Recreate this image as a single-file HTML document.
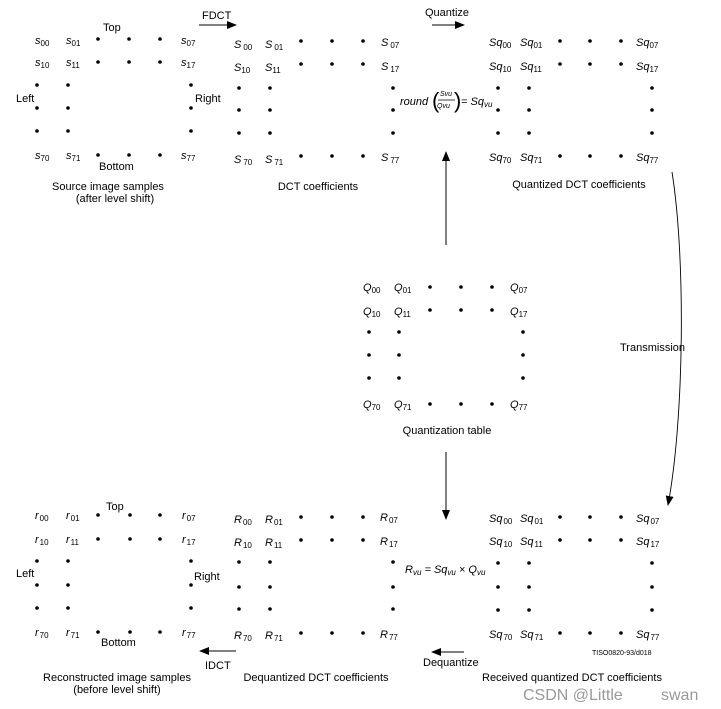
<!DOCTYPE html>
<html><head><meta charset="utf-8"><style>
html,body{margin:0;padding:0;background:#fff}
svg{display:block}
text{font-family:"Liberation Sans",sans-serif;font-size:11px;fill:#000}
.i{font-style:italic}
.s{font-size:8px;font-style:normal}
</style></head><body>
<svg width="721" height="709" viewBox="0 0 721 709" xmlns="http://www.w3.org/2000/svg">
<defs><marker id="a" markerWidth="10" markerHeight="8" refX="9" refY="4" orient="auto" markerUnits="userSpaceOnUse"><path d="M0,0 L10,4 L0,8 Z" fill="#000"/></marker></defs>
<g fill="#000">
<!-- Block 1 top -->
<circle cx="98" cy="39" r="1.8"/><circle cx="129" cy="39" r="1.8"/><circle cx="160" cy="39" r="1.8"/>
<circle cx="98" cy="62" r="1.8"/><circle cx="129" cy="62" r="1.8"/><circle cx="160" cy="62" r="1.8"/>
<circle cx="37" cy="85" r="1.8"/><circle cx="68" cy="85" r="1.8"/><circle cx="191" cy="85" r="1.8"/>
<circle cx="37" cy="108" r="1.8"/><circle cx="68" cy="108" r="1.8"/><circle cx="191" cy="108" r="1.8"/>
<circle cx="37" cy="131" r="1.8"/><circle cx="68" cy="131" r="1.8"/><circle cx="191" cy="131" r="1.8"/>
<circle cx="98" cy="155" r="1.8"/><circle cx="129" cy="155" r="1.8"/><circle cx="160" cy="155" r="1.8"/>
<!-- Block 2 top -->
<circle cx="301" cy="41" r="1.8"/><circle cx="332" cy="41" r="1.8"/><circle cx="363" cy="41" r="1.8"/>
<circle cx="301" cy="64" r="1.8"/><circle cx="332" cy="64" r="1.8"/><circle cx="363" cy="64" r="1.8"/>
<circle cx="239" cy="88" r="1.8"/><circle cx="270" cy="88" r="1.8"/><circle cx="393" cy="88" r="1.8"/>
<circle cx="239" cy="110" r="1.8"/><circle cx="270" cy="110" r="1.8"/><circle cx="393" cy="110" r="1.8"/>
<circle cx="239" cy="133" r="1.8"/><circle cx="270" cy="133" r="1.8"/><circle cx="393" cy="133" r="1.8"/>
<circle cx="301" cy="156" r="1.8"/><circle cx="332" cy="156" r="1.8"/><circle cx="363" cy="156" r="1.8"/>
<!-- Block 3 top -->
<circle cx="560" cy="41" r="1.8"/><circle cx="590" cy="41" r="1.8"/><circle cx="621" cy="41" r="1.8"/>
<circle cx="560" cy="64" r="1.8"/><circle cx="590" cy="64" r="1.8"/><circle cx="621" cy="64" r="1.8"/>
<circle cx="498" cy="88" r="1.8"/><circle cx="529" cy="88" r="1.8"/><circle cx="652" cy="88" r="1.8"/>
<circle cx="498" cy="110" r="1.8"/><circle cx="529" cy="110" r="1.8"/><circle cx="652" cy="110" r="1.8"/>
<circle cx="498" cy="133" r="1.8"/><circle cx="529" cy="133" r="1.8"/><circle cx="652" cy="133" r="1.8"/>
<circle cx="560" cy="156" r="1.8"/><circle cx="590" cy="156" r="1.8"/><circle cx="621" cy="156" r="1.8"/>
<!-- Q block -->
<circle cx="430" cy="287" r="1.8"/><circle cx="461" cy="287" r="1.8"/><circle cx="492" cy="287" r="1.8"/>
<circle cx="430" cy="310" r="1.8"/><circle cx="461" cy="310" r="1.8"/><circle cx="492" cy="310" r="1.8"/>
<circle cx="369" cy="332" r="1.8"/><circle cx="399" cy="332" r="1.8"/><circle cx="523" cy="332" r="1.8"/>
<circle cx="369" cy="355" r="1.8"/><circle cx="399" cy="355" r="1.8"/><circle cx="523" cy="355" r="1.8"/>
<circle cx="369" cy="378" r="1.8"/><circle cx="399" cy="378" r="1.8"/><circle cx="523" cy="378" r="1.8"/>
<circle cx="430" cy="404" r="1.8"/><circle cx="461" cy="404" r="1.8"/><circle cx="492" cy="404" r="1.8"/>
<!-- Block 1 bottom -->
<circle cx="98" cy="515" r="1.8"/><circle cx="130" cy="515" r="1.8"/><circle cx="160" cy="515" r="1.8"/>
<circle cx="98" cy="539" r="1.8"/><circle cx="130" cy="539" r="1.8"/><circle cx="160" cy="539" r="1.8"/>
<circle cx="37" cy="561" r="1.8"/><circle cx="68" cy="561" r="1.8"/><circle cx="191" cy="561" r="1.8"/>
<circle cx="37" cy="585" r="1.8"/><circle cx="68" cy="585" r="1.8"/><circle cx="191" cy="585" r="1.8"/>
<circle cx="37" cy="608" r="1.8"/><circle cx="68" cy="608" r="1.8"/><circle cx="191" cy="608" r="1.8"/>
<circle cx="98" cy="632" r="1.8"/><circle cx="130" cy="632" r="1.8"/><circle cx="160" cy="632" r="1.8"/>
<!-- Block 2 bottom -->
<circle cx="301" cy="517" r="1.8"/><circle cx="332" cy="517" r="1.8"/><circle cx="363" cy="517" r="1.8"/>
<circle cx="301" cy="540" r="1.8"/><circle cx="332" cy="540" r="1.8"/><circle cx="363" cy="540" r="1.8"/>
<circle cx="239" cy="562" r="1.8"/><circle cx="270" cy="562" r="1.8"/><circle cx="393" cy="562" r="1.8"/>
<circle cx="239" cy="587" r="1.8"/><circle cx="270" cy="587" r="1.8"/><circle cx="393" cy="587" r="1.8"/>
<circle cx="239" cy="609" r="1.8"/><circle cx="270" cy="609" r="1.8"/><circle cx="393" cy="609" r="1.8"/>
<circle cx="301" cy="633" r="1.8"/><circle cx="332" cy="633" r="1.8"/><circle cx="363" cy="633" r="1.8"/>
<!-- Block 3 bottom -->
<circle cx="560" cy="517" r="1.8"/><circle cx="590" cy="517" r="1.8"/><circle cx="621" cy="517" r="1.8"/>
<circle cx="560" cy="540" r="1.8"/><circle cx="590" cy="540" r="1.8"/><circle cx="621" cy="540" r="1.8"/>
<circle cx="498" cy="563" r="1.8"/><circle cx="529" cy="563" r="1.8"/><circle cx="652" cy="563" r="1.8"/>
<circle cx="498" cy="587" r="1.8"/><circle cx="529" cy="587" r="1.8"/><circle cx="652" cy="587" r="1.8"/>
<circle cx="498" cy="610" r="1.8"/><circle cx="529" cy="610" r="1.8"/><circle cx="652" cy="610" r="1.8"/>
<circle cx="560" cy="633" r="1.8"/><circle cx="590" cy="633" r="1.8"/><circle cx="621" cy="633" r="1.8"/>
</g>

<!-- Block 1 top labels -->
<text class="i" x="35" y="44">s<tspan class="s" dy="2">00</tspan></text>
<text class="i" x="66" y="44">s<tspan class="s" dy="2">01</tspan></text>
<text class="i" x="181" y="44">s<tspan class="s" dy="2">07</tspan></text>
<text class="i" x="35" y="66">s<tspan class="s" dy="2">10</tspan></text>
<text class="i" x="66" y="66">s<tspan class="s" dy="2">11</tspan></text>
<text class="i" x="181" y="66">s<tspan class="s" dy="2">17</tspan></text>
<text class="i" x="35" y="159">s<tspan class="s" dy="2">70</tspan></text>
<text class="i" x="66" y="159">s<tspan class="s" dy="2">71</tspan></text>
<text class="i" x="181" y="159">s<tspan class="s" dy="2">77</tspan></text>
<text x="103" y="31">Top</text>
<text x="16" y="102">Left</text>
<text x="195" y="102">Right</text>
<text x="99" y="170">Bottom</text>
<text x="108" y="190" text-anchor="middle">Source image samples</text>
<text x="115" y="202" text-anchor="middle">(after level shift)</text>

<text x="202" y="19">FDCT</text>
<line x1="199" y1="25" x2="236" y2="25" stroke="#000" marker-end="url(#a)"/>

<!-- Block 2 top -->
<text class="i" x="234" y="48">S<tspan class="s" dx="2" dy="2">00</tspan></text>
<text class="i" x="265" y="48">S<tspan class="s" dx="2" dy="2">01</tspan></text>
<text class="i" x="381" y="46">S<tspan class="s" dx="2" dy="2">07</tspan></text>
<text class="i" x="234" y="71">S<tspan class="s" dy="2">10</tspan></text>
<text class="i" x="265" y="71">S<tspan class="s" dy="2">11</tspan></text>
<text class="i" x="381" y="70">S<tspan class="s" dx="2" dy="2">17</tspan></text>
<text class="i" x="234" y="163">S<tspan class="s" dx="2" dy="2">70</tspan></text>
<text class="i" x="265" y="163">S<tspan class="s" dx="2" dy="2">71</tspan></text>
<text class="i" x="381" y="161">S<tspan class="s" dx="2" dy="2">77</tspan></text>
<text x="318" y="190" text-anchor="middle">DCT coefficients</text>

<text x="425" y="16">Quantize</text>
<line x1="432" y1="25" x2="464" y2="25" stroke="#000" marker-end="url(#a)"/>

<!-- formula -->
<text class="i" x="400" y="105">round</text>
<text x="432" y="108" style="font-size:22px;font-weight:100">(</text>
<text class="i" x="440" y="96" style="font-size:7px">Svu</text>
<line x1="438" y1="100" x2="455" y2="100" stroke="#000" stroke-width="0.7"/>
<text class="i" x="437" y="108" style="font-size:7px">Qvu</text>
<text x="454" y="108" style="font-size:22px;font-weight:100">)</text>
<text class="i" x="461" y="105">= Sq<tspan class="s" style="font-style:italic" dy="2">vu</tspan></text>

<!-- Block 3 top -->
<text class="i" x="489" y="46">Sq<tspan class="s" dy="2">00</tspan></text>
<text class="i" x="520" y="46">Sq<tspan class="s" dy="2">01</tspan></text>
<text class="i" x="636" y="46">Sq<tspan class="s" dy="2">07</tspan></text>
<text class="i" x="489" y="70">Sq<tspan class="s" dy="2">10</tspan></text>
<text class="i" x="520" y="70">Sq<tspan class="s" dy="2">11</tspan></text>
<text class="i" x="636" y="70">Sq<tspan class="s" dy="2">17</tspan></text>
<text class="i" x="489" y="161">Sq<tspan class="s" dy="2">70</tspan></text>
<text class="i" x="520" y="161">Sq<tspan class="s" dy="2">71</tspan></text>
<text class="i" x="636" y="161">Sq<tspan class="s" dy="2">77</tspan></text>
<text x="579" y="188" text-anchor="middle">Quantized DCT coefficients</text>

<!-- vertical arrows -->
<line x1="446" y1="245" x2="446" y2="152" stroke="#000" marker-end="url(#a)"/>
<line x1="446" y1="452" x2="446" y2="519" stroke="#000" marker-end="url(#a)"/>

<!-- Q block labels -->
<text class="i" x="363" y="291">Q<tspan class="s" dy="2">00</tspan></text>
<text class="i" x="394" y="291">Q<tspan class="s" dy="2">01</tspan></text>
<text class="i" x="510" y="291">Q<tspan class="s" dy="2">07</tspan></text>
<text class="i" x="363" y="315">Q<tspan class="s" dy="2">10</tspan></text>
<text class="i" x="394" y="315">Q<tspan class="s" dy="2">11</tspan></text>
<text class="i" x="510" y="315">Q<tspan class="s" dy="2">17</tspan></text>
<text class="i" x="363" y="408">Q<tspan class="s" dy="2">70</tspan></text>
<text class="i" x="394" y="408">Q<tspan class="s" dy="2">71</tspan></text>
<text class="i" x="510" y="408">Q<tspan class="s" dy="2">77</tspan></text>
<text x="447" y="434" text-anchor="middle">Quantization table</text>

<!-- transmission -->
<path d="M672,172 C686,260 684,420 668,505" fill="none" stroke="#000" stroke-width="0.9" marker-end="url(#a)"/>
<text x="620" y="351">Transmission</text>

<!-- Block 1 bottom -->
<text class="i" x="35" y="519">r<tspan class="s" dx="1" dy="2">00</tspan></text>
<text class="i" x="66" y="519">r<tspan class="s" dx="1" dy="2">01</tspan></text>
<text class="i" x="182" y="519">r<tspan class="s" dx="1" dy="2">07</tspan></text>
<text class="i" x="35" y="543">r<tspan class="s" dx="1" dy="2">10</tspan></text>
<text class="i" x="66" y="543">r<tspan class="s" dx="1" dy="2">11</tspan></text>
<text class="i" x="182" y="543">r<tspan class="s" dx="1" dy="2">17</tspan></text>
<text class="i" x="35" y="636">r<tspan class="s" dx="1" dy="2">70</tspan></text>
<text class="i" x="66" y="636">r<tspan class="s" dx="1" dy="2">71</tspan></text>
<text class="i" x="182" y="636">r<tspan class="s" dx="1" dy="2">77</tspan></text>
<text x="106" y="510">Top</text>
<text x="16" y="577">Left</text>
<text x="194" y="580">Right</text>
<text x="101" y="646">Bottom</text>
<text x="117" y="681" text-anchor="middle">Reconstructed image samples</text>
<text x="117" y="693" text-anchor="middle">(before level shift)</text>
<line x1="236" y1="651" x2="200" y2="651" stroke="#000" marker-end="url(#a)"/>
<text x="205" y="669">IDCT</text>

<!-- Block 2 bottom -->
<text class="i" x="234" y="523">R<tspan class="s" dx="1" dy="2">00</tspan></text>
<text class="i" x="265" y="523">R<tspan class="s" dx="1" dy="2">01</tspan></text>
<text class="i" x="380" y="521">R<tspan class="s" dx="1" dy="2">07</tspan></text>
<text class="i" x="234" y="546">R<tspan class="s" dx="1" dy="2">10</tspan></text>
<text class="i" x="265" y="546">R<tspan class="s" dx="1" dy="2">11</tspan></text>
<text class="i" x="380" y="545">R<tspan class="s" dx="1" dy="2">17</tspan></text>
<text class="i" x="234" y="639">R<tspan class="s" dx="1" dy="2">70</tspan></text>
<text class="i" x="265" y="639">R<tspan class="s" dx="1" dy="2">71</tspan></text>
<text class="i" x="380" y="638">R<tspan class="s" dx="1" dy="2">77</tspan></text>
<text x="316" y="681" text-anchor="middle">Dequantized DCT coefficients</text>

<text class="i" x="405" y="573">R<tspan class="s" style="font-style:italic" dy="2">vu</tspan><tspan dy="-2"> = Sq</tspan><tspan class="s" style="font-style:italic" dy="2">vu</tspan><tspan dy="-2"> × Q</tspan><tspan class="s" style="font-style:italic" dy="2">vu</tspan></text>

<line x1="464" y1="652" x2="432" y2="652" stroke="#000" marker-end="url(#a)"/>
<text x="423" y="666">Dequantize</text>

<!-- Block 3 bottom -->
<text class="i" x="489" y="522">Sq<tspan class="s" dx="1" dy="2">00</tspan></text>
<text class="i" x="520" y="522">Sq<tspan class="s" dx="1" dy="2">01</tspan></text>
<text class="i" x="636" y="522">Sq<tspan class="s" dx="1" dy="2">07</tspan></text>
<text class="i" x="489" y="545">Sq<tspan class="s" dx="1" dy="2">10</tspan></text>
<text class="i" x="520" y="545">Sq<tspan class="s" dx="1" dy="2">11</tspan></text>
<text class="i" x="636" y="545">Sq<tspan class="s" dx="1" dy="2">17</tspan></text>
<text class="i" x="489" y="638">Sq<tspan class="s" dx="1" dy="2">70</tspan></text>
<text class="i" x="520" y="638">Sq<tspan class="s" dx="1" dy="2">71</tspan></text>
<text class="i" x="636" y="638">Sq<tspan class="s" dx="1" dy="2">77</tspan></text>
<text x="592" y="655" style="font-size:7px">TISO0820-93/d018</text>
<text x="572" y="681" text-anchor="middle">Received quantized DCT coefficients</text>

<text x="523" y="700" style="font-size:16px;fill:#999">CSDN @Little</text>
<text x="661" y="700" style="font-size:16px;fill:#999">swan</text>
</svg>
</body></html>
